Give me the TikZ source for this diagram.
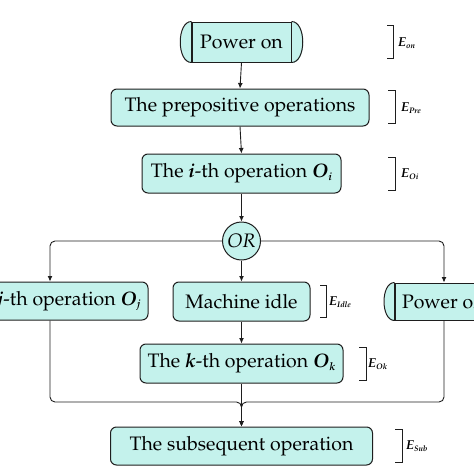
\documentclass[tikz,border=0pt]{standalone}
\usepackage[T1]{fontenc}
\usepackage{mathpazo}
\usetikzlibrary{arrows.meta,calc}
\definecolor{boxfill}{RGB}{196,242,236}
\definecolor{boxline}{RGB}{30,30,30}
\tikzset{
  flowbox/.style={draw=boxline, fill=boxfill, line width=1pt, rounded corners=6pt,
    inner sep=0pt, font=\fontsize{19.5}{22}\selectfont},
  capbox/.style={draw=boxline, fill=boxfill, line width=1pt,
    inner sep=0pt, font=\fontsize{19.5}{22}\selectfont},
  capline/.style={draw=boxline, fill=boxfill, line width=1pt},
  edgeline/.style={draw=boxline, line width=1pt},
  orcircle/.style={circle, draw=boxline, fill=boxfill, line width=1pt, minimum size=38pt,
    inner sep=0pt, font=\fontsize{19.5}{22}\selectfont\itshape},
  conn/.style={draw=boxline, line width=0.9pt, -{Latex[length=5.5pt,width=5pt]}},
  brack/.style={draw=boxline, line width=0.9pt},
  elabel/.style={anchor=west, inner sep=0pt, font=\fontsize{13}{14}\selectfont\bfseries\itshape}
}
\newcommand{\bi}[1]{\textbf{\textit{#1}}}
\newcommand{\esub}[1]{\bi{E}\raisebox{-0.35ex}{\fontsize{8}{9}\selectfont\bfseries\itshape #1}}
\newcommand{\osub}[1]{\bi{O}\raisebox{-0.25ex}{\fontsize{11}{12}\selectfont\bi{#1}}}
\begin{document}
\begin{tikzpicture}[x=1pt,y=-1pt]
\useasboundingbox (0,0) rectangle (474,474);
\clip (0,0) rectangle (474,474);
% nodes
\node[capbox, minimum width=99pt, minimum height=40pt] (pon) at (241.5,42) {Power on};
\draw[capline] (pon.north east) .. controls +(15,0) and +(15,0) .. (pon.south east);
\draw[capline] (pon.north west) .. controls +(-15,0) and +(-15,0) .. (pon.south west);
\draw[edgeline] (pon.north east) -- (pon.south east);
\draw[edgeline] (pon.north west) -- (pon.south west);
\node[flowbox, minimum width=258pt, minimum height=37pt] (pre) at (240,107.5) {The prepositive operations};
\node[flowbox, minimum width=199pt, minimum height=39pt] (oi) at (241.5,173.5) {The \bi{i}-th operation \osub{i}};
\node[orcircle] (or) at (241.5,241) {OR};
\node[flowbox, minimum width=196pt, minimum height=38pt] (oj) at (50,301) {The \bi{j}-th operation \osub{j}};
\node[flowbox, minimum width=137pt, minimum height=39pt] (idle) at (241.5,301.5) {Machine idle};
\node[capbox, minimum width=98pt, minimum height=37pt] (poff) at (444,301.5) {Power off};
\draw[capline] (poff.north west) .. controls +(-14,0) and +(-14,0) .. (poff.south west);
\draw[capline] (poff.north east) .. controls +(14,0) and +(14,0) .. (poff.south east);
\draw[edgeline] (poff.north west) -- (poff.south west);
\draw[edgeline] (poff.north east) -- (poff.south east);
\node[flowbox, minimum width=203pt, minimum height=39pt] (ok) at (241.5,363.5) {The \bi{k}-th operation \osub{k}};
\node[flowbox, minimum width=262pt, minimum height=38pt] (sub) at (241.5,446) {The subsequent operation};
\coordinate (m) at (241.5,402);
% connectors
\draw[conn] (pon.south) -- (pre.north);
\draw[conn] (pre.south) -- (oi.north);
\draw[conn] (oi.south) -- (or.north);
\draw[conn, rounded corners=5pt] (or.west) -| (oj.north);
\draw[conn, rounded corners=5pt] (or.east) -| (poff.north);
\draw[conn] (or.south) -- (idle.north);
\draw[conn] (idle.south) -- (ok.north);
\draw[conn] (ok.south) -- (sub.north);
\draw[conn, rounded corners=5pt] (oj.south) |- (m) -- (sub.north);
\draw[conn, rounded corners=5pt] (poff.south) |- (m) -- (sub.north);
% brackets and labels
\draw[brack] (387,25) -- (393,25) -- (393,58) -- (387,58);
\node[elabel] (lon) at (398,43) {\esub{on}};
\draw[brack] (388,90) -- (395,90) -- (395,123) -- (388,123);
\node[elabel] (lpre) at (401,108) {\esub{Pre}};
\draw[brack] (388,157) -- (395,157) -- (395,190) -- (388,190);
\node[elabel] (loi) at (401,174) {\esub{Oi}};
\draw[brack] (320,285) -- (326,285) -- (326,317) -- (320,317);
\node[elabel] (lidle) at (329,302) {\esub{Idle}};
\draw[brack] (359,347) -- (366,347) -- (366,380) -- (359,380);
\node[elabel] (lok) at (368,364) {\esub{Ok}};
\draw[brack] (395,429) -- (402,429) -- (402,462) -- (395,462);
\node[elabel] (lsub) at (406,446) {\esub{Sub}};
\end{tikzpicture}
\end{document}
